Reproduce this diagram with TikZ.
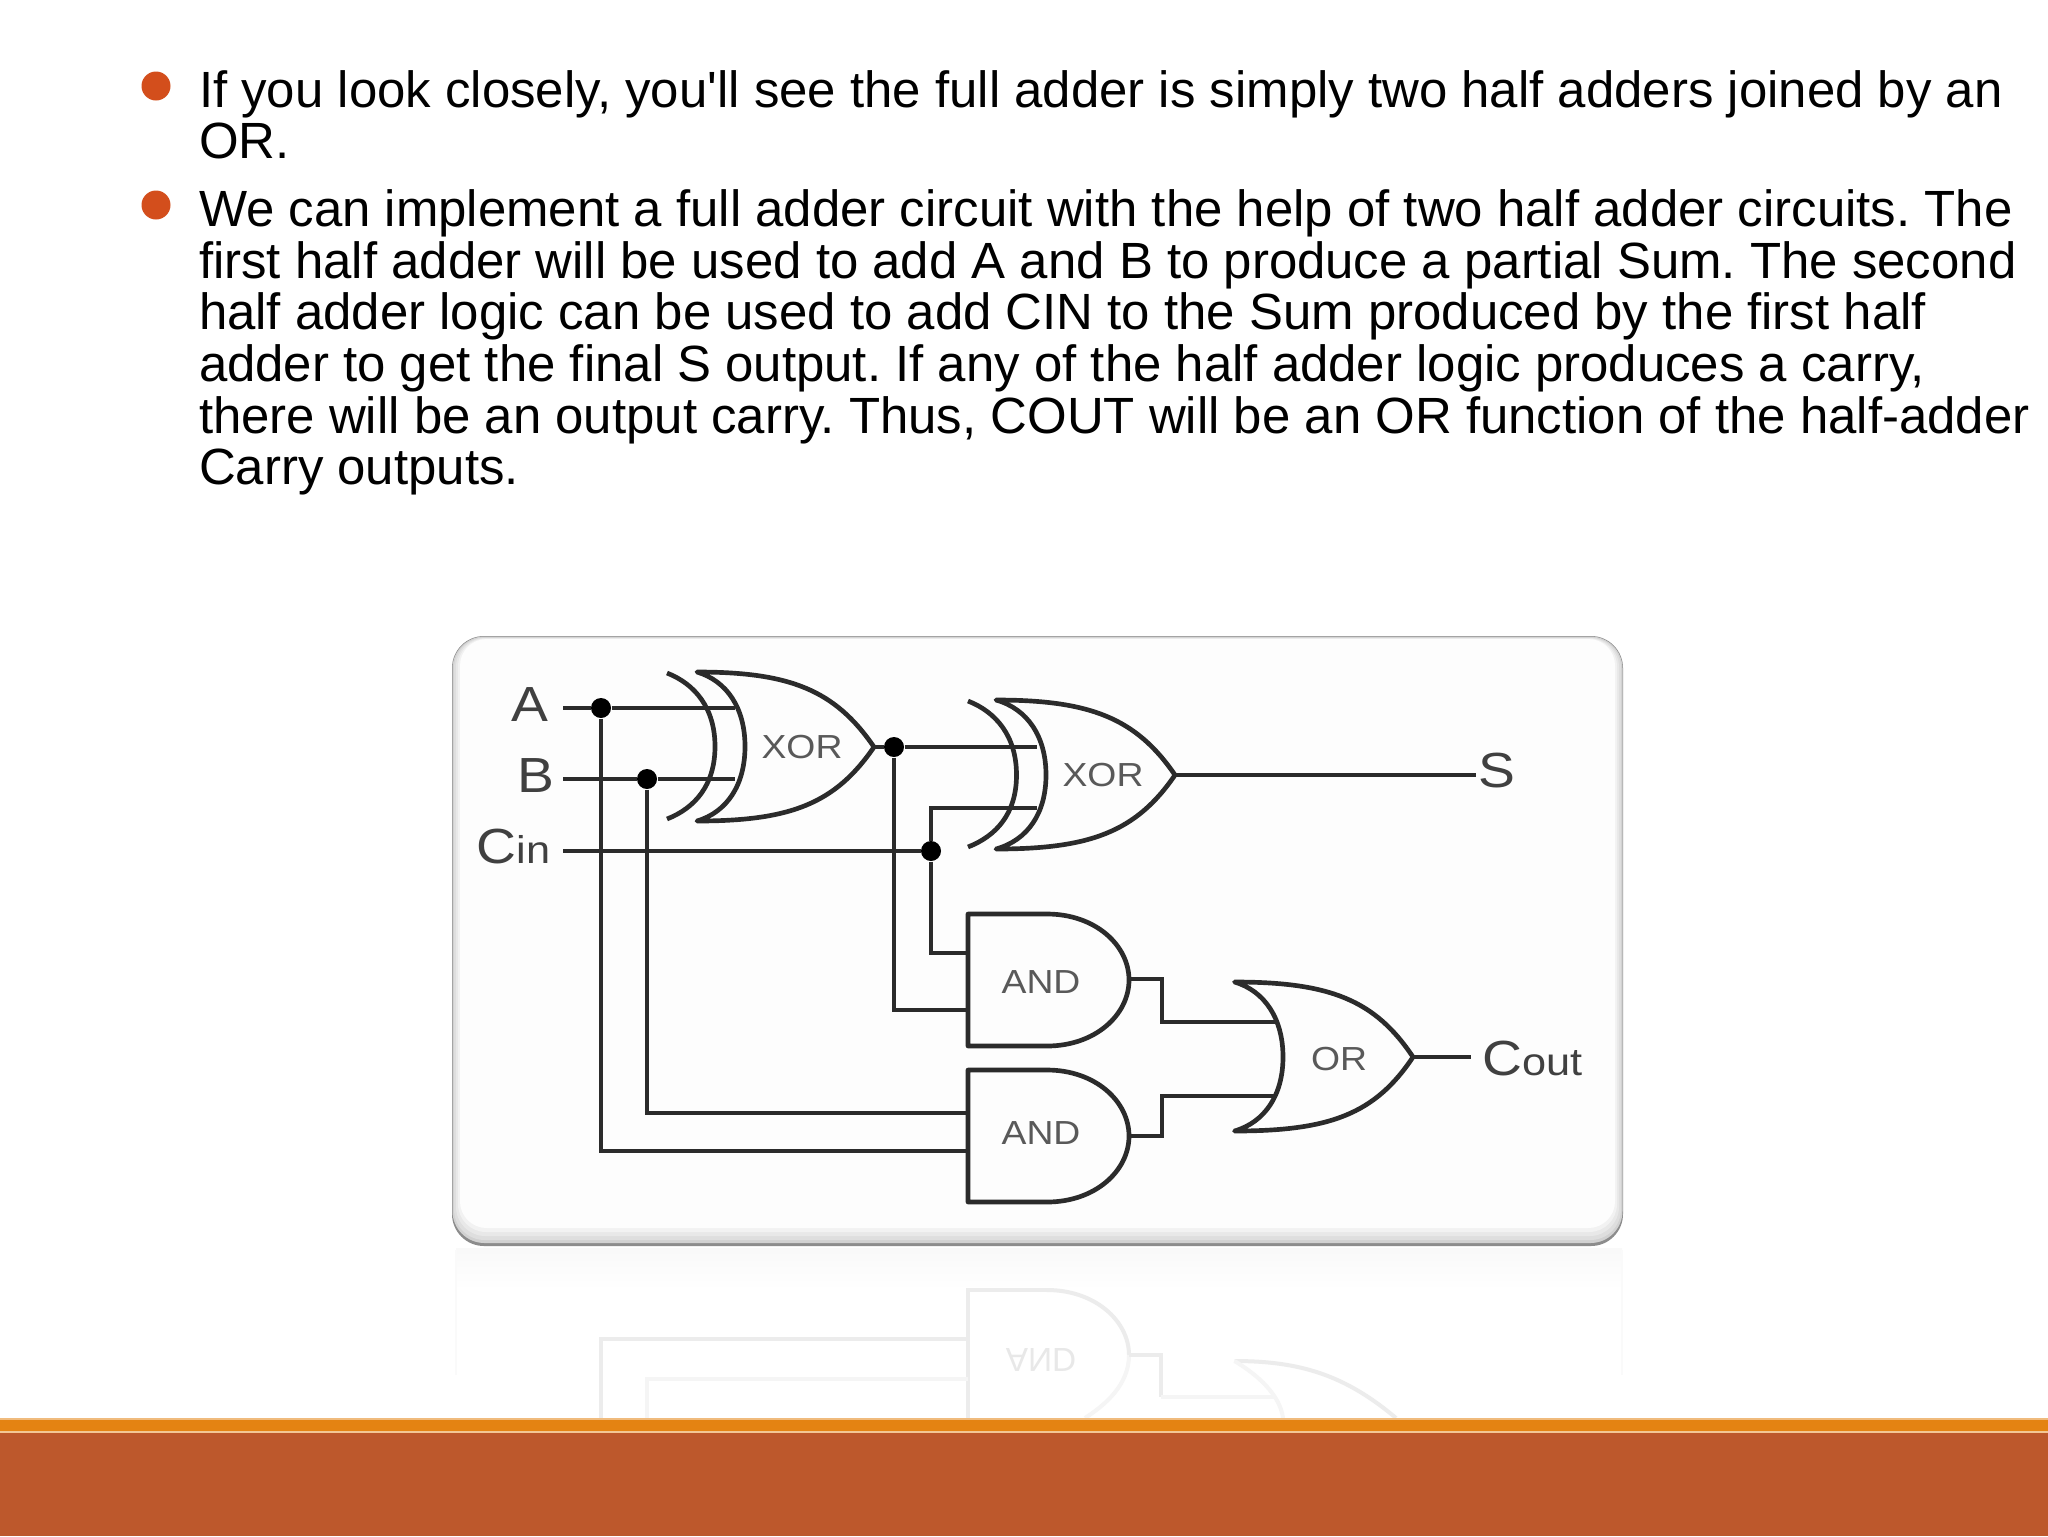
\documentclass[tikz,border=0pt]{standalone}
\usepackage{fontspec}
\setmainfont{Liberation Sans}
\definecolor{bulletcol}{HTML}{D34E1C}
\definecolor{bandcol}{HTML}{E48312}
\definecolor{floorcol}{HTML}{BD582C}
\definecolor{wirecol}{HTML}{2B2B2B}
\definecolor{mirrorcol}{HTML}{ECECEC}
\definecolor{mirrorlow}{HTML}{F5F5F5}
\tikzset{
	every picture/.style={line width=0.75pt},
	wire/.style={draw=wirecol,line width=3.5pt,line join=miter},
	gate/.style={draw=wirecol,line width=3.5pt,line join=round},
	mirrorwire/.style={draw=mirrorcol,line width=3pt},
	mirrorlight/.style={draw=mirrorlow,line width=3pt},
	dotnode/.style={circle,fill=black,inner sep=0pt,minimum size=15pt},
	bodytext/.style={anchor=base west,inner sep=0pt,font=\fontsize{38.2}{45}\selectfont\frenchspacing},
	gatetext/.style={inner sep=0pt,xscale=1.12,text=black!65,font=\fontsize{25}{30}\selectfont},
	pintext/.style={inner sep=0pt,xscale=1.12,text=black!75,font=\fontsize{37}{44}\selectfont},
}

\begin{document}
\begin{tikzpicture}[x=0.75pt,y=0.75pt,yscale=-1,xscale=1]
	\useasboundingbox (0,0) rectangle (2048,1536);
	%Shape: Rectangle (slide)
	\fill [white] (0,0) rectangle (2048,1536);

	%Shape: Reflection of the panel
	\shade [top color=black!2.5,bottom color=white] (456,1248) rectangle (1622,1290);
	\draw [black!2,line width=2pt] (456,1250) -- (456,1375) (1622,1250) -- (1622,1375);
	%Shape: Reflection of the lower gates
	\draw [mirrorwire] (1047,1290) -- (968,1290) -- (968,1418);
	\draw [mirrorwire] (1047,1290) .. controls (1095,1290) and (1129,1321) .. (1129,1355);
	\draw [mirrorlight] (1129,1355) .. controls (1129,1385) and (1105,1405) .. (1085,1418);
	\draw [mirrorwire] (968,1339) -- (601,1339) -- (601,1418);
	\draw [mirrorlight] (968,1379) -- (647,1379) -- (647,1418);
	\draw [mirrorwire] (1129,1355) -- (1161,1355) -- (1161,1397);
	\draw [mirrorlight] (1161,1397) -- (1276,1397);
	\draw [mirrorwire] (1234.5,1361) .. controls (1300,1361) and (1345,1375) .. (1396,1418);
	\draw [mirrorlight] (1234.5,1361) .. controls (1258,1375) and (1280,1395) .. (1283,1418);
	% Text Node
	\draw (1041,1360) node [yscale=-1,inner sep=0pt,text=black!9,font=\fontsize{25}{30}\selectfont] (mirrorand) {AND};

	%Shape: Band and floor
	\fill [bandcol] (0,1418) rectangle (2048,1432);
	\fill [bandcol!55!white] (0,1418) rectangle (2048,1419.5);
	\fill [bandcol!45!white] (0,1431) rectangle (2048,1433);
	\fill [floorcol] (0,1433) rectangle (2048,1536);

	%Shape: Circle (bullets)
	\fill [bulletcol] (156,86) circle [radius=14.5];
	\fill [bulletcol] (156,205) circle [radius=14.5];

	% Text Node
	\draw (198.5,107) node [bodytext] (lineone) {If you look closely, you\textquotesingle ll see the full adder is simply two half adders joined by an};
	% Text Node
	\draw (198.5,158) node [bodytext] (linetwo) {OR.};
	% Text Node
	\draw (198.5,226.5) node [bodytext] (linethree) {We can implement a full adder circuit with the help of two half adder circuits. The};
	% Text Node
	\draw (198.5,278) node [bodytext] (linefour) {first half adder will be used to add A and B to produce a partial Sum. The second};
	% Text Node
	\draw (198.5,329.5) node [bodytext] (linefive) {half adder logic can be used to add CIN to the Sum produced by the first half};
	% Text Node
	\draw (198.5,381) node [bodytext] (linesix) {adder to get the final S output. If any of the half adder logic produces a carry,};
	% Text Node
	\draw (198.5,433) node [bodytext] (lineseven) {there will be an output carry. Thus, COUT will be an OR function of the half-adder};
	% Text Node
	\draw (198.5,484.5) node [bodytext] (lineeight) {Carry outputs.};

	%Shape: Rounded Rect (panel, inner shadow)
	\draw [draw=none,fill=black!45,rounded corners=24] (452,636) rectangle (1623,1246);
	\fill [black!18,rounded corners=24] (452.5,636.5) rectangle (1622.5,1243);
	\fill [black!13,rounded corners=23] (454,637.5) rectangle (1621,1240);
	\fill [black!9,rounded corners=22] (456,638) rectangle (1619,1236);
	\fill [black!5,rounded corners=21] (458,638.5) rectangle (1617,1232);
	\fill [black!0.7,rounded corners=20] (460,639) rectangle (1615,1228);

	%Pins
	\coordinate (ina) at (563,708);
	\coordinate (inb) at (563,779);
	\coordinate (inc) at (563,851);
	\coordinate (xonea) at (735,708);
	\coordinate (xoneb) at (735,779);
	\coordinate (xoneout) at (874,747);
	\coordinate (xtwoa) at (1037,747);
	\coordinate (xtwob) at (1037,808);
	\coordinate (xtwoout) at (1175,775);
	\coordinate (outs) at (1476,775);
	\coordinate (andonea) at (968,953);
	\coordinate (andoneb) at (968,1010);
	\coordinate (andoneout) at (1129,979);
	\coordinate (andtwoa) at (968,1113);
	\coordinate (andtwob) at (968,1151);
	\coordinate (andtwoout) at (1129,1136);
	\coordinate (kneeone) at (1162,1022);
	\coordinate (kneetwo) at (1162,1096);
	\coordinate (ora) at (1276,1022);
	\coordinate (orb) at (1276,1096);
	\coordinate (orout) at (1413,1057);
	\coordinate (outc) at (1471,1057);

	%Shape: XOR gate 1
	\draw [gate] (667,673) .. controls (695,684) and (715,708) .. (715,746.5) .. controls (715,785) and (695,808) .. (667,819);
	\draw [gate] (697,672) .. controls (790,672) and (835,690) .. (874,747) .. controls (835,804) and (790,821) .. (697,821) .. controls (727,812) and (745,785) .. (745,746.5) .. controls (745,708) and (727,681) .. (697,672) -- cycle;
	%Shape: XOR gate 2
	\draw [gate] (968,701) .. controls (996,712) and (1016.5,736) .. (1016.5,775) .. controls (1016.5,814) and (996,836) .. (968,847);
	\draw [gate] (996,700) .. controls (1090,700) and (1136,718) .. (1175,775) .. controls (1136,832) and (1090,849) .. (996,849) .. controls (1028,840) and (1046,813) .. (1046,775) .. controls (1046,737) and (1028,709) .. (996,700) -- cycle;
	%Shape: AND gates
	\draw [gate] (968,914) -- (1047,914) .. controls (1095,914) and (1129,945) .. (1129,980) .. controls (1129,1015) and (1095,1046) .. (1047,1046) -- (968,1046) -- cycle;
	\draw [gate] (968,1070) -- (1047,1070) .. controls (1095,1070) and (1129,1101) .. (1129,1136) .. controls (1129,1171) and (1095,1202) .. (1047,1202) -- (968,1202) -- cycle;
	%Shape: OR gate
	\draw [gate] (1234.5,982) .. controls (1330,982) and (1375,1000) .. (1413,1057) .. controls (1375,1114) and (1330,1131) .. (1234.5,1131) .. controls (1265,1122) and (1283,1095) .. (1283,1057) .. controls (1283,1019) and (1265,991) .. (1234.5,982) -- cycle;

	%Junctions
	\draw (601,708) node [dotnode] (dota) {};
	\draw (647,779) node [dotnode] (dotb) {};
	\draw (894,747) node [dotnode] (dotx) {};
	\draw (931,851) node [dotnode] (dotc) {};

	%Wires
	\draw [wire] (ina) -- (dota) -- (xonea);
	\draw [wire] (inb) -- (dotb) -- (xoneb);
	\draw [wire] (inc) -- (dotc);
	\draw [wire] (xoneout) -- (dotx) -- (xtwoa);
	\draw [wire] (dotc) |- (xtwob);
	\draw [wire] (dotc) |- (andonea);
	\draw [wire] (dotx) |- (andoneb);
	\draw [wire] (dotb) |- (andtwoa);
	\draw [wire] (dota) |- (andtwob);
	\draw [wire] (xtwoout) -- (outs);
	\draw [wire] (andoneout) -| (kneeone) -- (ora);
	\draw [wire] (andtwoout) -| (kneetwo) -- (orb);
	\draw [wire] (orout) -- (outc);

	% Text Node
	\draw (802,747) node [gatetext] (xoronelabel) {XOR};
	% Text Node
	\draw (1103,775) node [gatetext] (xortwolabel) {XOR};
	% Text Node
	\draw (1041,982) node [gatetext] (andonelabel) {AND};
	% Text Node
	\draw (1041,1133) node [gatetext] (andtwolabel) {AND};
	% Text Node
	\draw (1339,1059) node [gatetext] (orlabel) {OR};
	% Text Node
	\draw (549,721) node [pintext,anchor=base east] (labela) {A};
	% Text Node
	\draw (555,792) node [pintext,anchor=base east] (labelb) {B};
	% Text Node
	\draw (551,863) node [pintext,anchor=base east] (labelc) {C{\fontsize{29}{34}\selectfont in}};
	% Text Node
	\draw (1478,787) node [pintext,anchor=base west] (labels) {S};
	% Text Node
	\draw (1482,1075) node [pintext,anchor=base west] (labelcout) {C{\fontsize{29}{34}\selectfont out}};
\end{tikzpicture}
\end{document}
